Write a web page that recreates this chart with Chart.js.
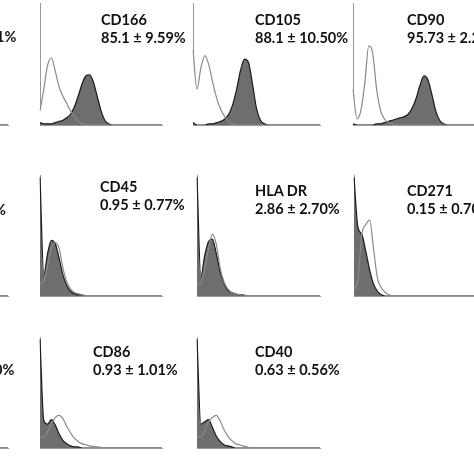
<!DOCTYPE html>
<html>
<head>
<meta charset="utf-8">
<script src="https://cdn.jsdelivr.net/npm/chart.js@4/dist/chart.umd.min.js"></script>
<style>
  body { margin: 0; background: #fff; width: 474px; height: 474px; overflow: hidden; position: relative; }
  canvas { position: absolute; }
  .lbl { position: absolute; font: bold 14.5px Lato, "Open Sans", sans-serif; color: #111; line-height: 18px; white-space: nowrap; }
</style>
</head>
<body>
<script>
// log decades 0..4, bins of 1/8 decade
const bins = Array.from({ length: 33 }, (_, i) => i);

// isotype (white) and marker (grey) histograms, fraction of axis height
const isoCD166 = [0.12, 0.3, 0.5, 0.56, 0.45, 0.32, 0.24, 0.18, 0.12, 0.07, 0.03, 0.01];
const markCD166 = [0.02, 0.01, 0.01, 0.01, 0.02, 0.03, 0.04, 0.06, 0.09, 0.15, 0.24, 0.34, 0.41, 0.42, 0.36, 0.24, 0.12, 0.04, 0.01];
const isoCD105 = [0.63, 0.3, 0.48, 0.58, 0.5, 0.35, 0.22, 0.13, 0.07, 0.03, 0.01];
const markCD105 = [0.02, 0, 0, 0, 0.01, 0.01, 0.02, 0.03, 0.05, 0.09, 0.17, 0.3, 0.46, 0.55, 0.52, 0.34, 0.14, 0.04, 0.01];
const isoCD90 = [0.3, 0.05, 0.12, 0.35, 0.66, 0.6, 0.3, 0.12, 0.05, 0.02, 0.01];
const markCD90 = [0.01, 0, 0, 0, 0, 0, 0.01, 0.01, 0.02, 0.03, 0.04, 0.05, 0.06, 0.07, 0.09, 0.14, 0.22, 0.33, 0.41, 0.38, 0.26, 0.12, 0.04, 0.01];
const isoCD45 = [0.1, 0.12, 0.26, 0.4, 0.45, 0.4, 0.24, 0.12, 0.06, 0.03, 0.02, 0.01];
const markCD45 = [1.0, 0.18, 0.36, 0.47, 0.44, 0.32, 0.18, 0.09, 0.04, 0.02, 0.01, 0.01];
const isoHLA = [0.1, 0.1, 0.24, 0.4, 0.52, 0.44, 0.24, 0.12, 0.06, 0.03, 0.02, 0.01, 0.01];
const markHLA = [1.0, 0.16, 0.34, 0.46, 0.48, 0.36, 0.21, 0.11, 0.05, 0.03, 0.02, 0.01, 0.01];
const isoCD271 = [0.05, 0.14, 0.52, 0.6, 0.64, 0.4, 0.15, 0.07, 0.03, 0.01];
const markCD271 = [1.0, 0.58, 0.52, 0.38, 0.22, 0.1, 0.04, 0.01];
const isoCD86 = [0.1, 0.1, 0.15, 0.22, 0.28, 0.3, 0.27, 0.2, 0.14, 0.09, 0.06, 0.04, 0.03, 0.02, 0.015, 0.01, 0.005];
const markCD86 = [1.0, 0.25, 0.22, 0.26, 0.21, 0.13, 0.07, 0.04, 0.02, 0.01, 0.01];
const isoCD40 = [0.1, 0.1, 0.16, 0.24, 0.28, 0.3, 0.25, 0.17, 0.11, 0.07, 0.04, 0.03, 0.02, 0.01];
const markCD40 = [1.0, 0.22, 0.24, 0.26, 0.19, 0.11, 0.06, 0.03, 0.02, 0.01];
const emptyHist = [0];

function pad(a) { return bins.map(i => a[i] || 0); }

function panel(left, top, w, h, iso, mark) {
  const c = document.createElement('canvas');
  c.style.left = left + 'px';
  c.style.top = top + 'px';
  c.style.width = w + 'px';
  c.style.height = h + 'px';
  c.width = w; c.height = h;
  document.body.appendChild(c);
  const line = { tension: 0.3, cubicInterpolationMode: 'monotone', pointRadius: 0 };
  new Chart(c, {
    type: 'line',
    data: {
      labels: bins,
      datasets: [
        { ...line, data: pad(iso), fill: 'origin', backgroundColor: '#fff', borderWidth: 0, order: 3 },
        { ...line, data: pad(mark), fill: 'origin', backgroundColor: '#6e6e6e', borderColor: '#1a1a1a', borderWidth: 1.2, order: 2 },
        { ...line, data: pad(iso), fill: false, borderColor: '#8a8a8a', borderWidth: 1.2, order: 1 },
      ],
    },
    options: {
      responsive: false,
      animation: false,
      layout: { padding: { top: 0, right: 1, bottom: 0, left: 0 } },
      plugins: { legend: { display: false }, tooltip: { enabled: false } },
      scales: {
        x: { ticks: { display: false }, grid: { display: false }, border: { color: '#999' } },
        y: { min: 0, max: 1.02, ticks: { display: false }, grid: { display: false }, border: { color: '#999' } },
      },
    },
  });
}

// row 1
panel(-125, 3, 134, 130, emptyHist, emptyHist);
panel(32, 3, 131, 130, isoCD166, markCD166);
panel(185, 3, 136, 130, isoCD105, markCD105);
panel(345, 3, 135, 130, isoCD90, markCD90);
// row 2
panel(-125, 175, 134, 129, emptyHist, emptyHist);
panel(32, 175, 131, 129, isoCD45, markCD45);
panel(189, 175, 132, 129, isoHLA, markHLA);
panel(346, 175, 134, 129, isoCD271, markCD271);
// row 3
panel(-125, 337, 134, 119, emptyHist, emptyHist);
panel(32, 337, 131, 119, isoCD86, markCD86);
panel(189, 337, 132, 119, isoCD40, markCD40);

const labels = [
  [-4, 28, '1%'], [101, 11, 'CD166<br>85.1 ± 9.59%'], [255, 11, 'CD105<br>88.1 ± 10.50%'], [407, 11, 'CD90<br>95.73 ± 2.26%'],
  [-6, 201, '%'], [100, 178, 'CD45<br>0.95 ± 0.77%'], [255, 182, 'HLA DR<br>2.86 ± 2.70%'], [407, 182, 'CD271<br>0.15 ± 0.70%'],
  [-6, 361, '0%'], [93, 343, 'CD86<br>0.93 ± 1.01%'], [255, 343, 'CD40<br>0.63 ± 0.56%'],
];
labels.forEach(([x, y, t]) => {
  const d = document.createElement('div');
  d.className = 'lbl';
  d.style.left = x + 'px';
  d.style.top = y + 'px';
  d.innerHTML = t;
  document.body.appendChild(d);
});
</script>
</body>
</html>
